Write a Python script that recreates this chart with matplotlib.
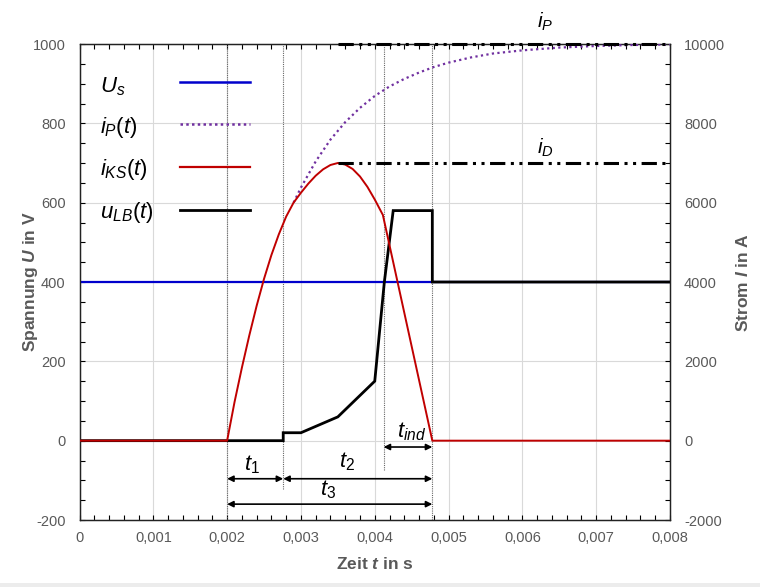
import matplotlib
matplotlib.use('Agg')
import matplotlib.pyplot as plt
from matplotlib.ticker import MultipleLocator, FuncFormatter
from matplotlib.lines import Line2D
from matplotlib.patches import Rectangle

plt.rcParams['font.family'] = ['Liberation Sans', 'DejaVu Sans']
plt.rcParams['mathtext.fontset'] = 'custom'
plt.rcParams['mathtext.rm'] = 'Liberation Sans'
plt.rcParams['mathtext.it'] = 'Liberation Sans:italic'
plt.rcParams['mathtext.bf'] = 'Liberation Sans:italic:bold'

# ---------------- data ----------------
t_us = [0.0, 0.008]
u_s = [400, 400]

t_ulb = [0.0, 0.00276, 0.00276, 0.0030, 0.0035, 0.0040, 0.00413, 0.00425, 0.00478, 0.00478, 0.008]
u_lb = [0, 0, 20, 20, 60, 150, 400, 580, 580, 400, 400]

t_iks = [0.0, 0.0020, 0.0021, 0.0022, 0.0023, 0.0024, 0.0025, 0.0026, 0.0027, 0.0028, 0.0029,
         0.0030, 0.0031, 0.0032, 0.0033, 0.0034, 0.0035, 0.0036, 0.0037, 0.0038, 0.0039,
         0.0040, 0.00411, 0.00478, 0.008]
i_ks = [0, 0, 970, 1840, 2650, 3400, 4080, 4680, 5200, 5650, 6000,
        6250, 6480, 6680, 6840, 6950, 7000, 6960, 6850, 6660, 6400,
        6080, 5690, 0, 0]

t_ip = [0.0029, 0.0030, 0.0032, 0.0034, 0.0036, 0.0038, 0.0040, 0.0042, 0.0044, 0.0046,
        0.0048, 0.0050, 0.0053, 0.0056, 0.0060, 0.0065, 0.0070, 0.0075, 0.0080]
i_p = [6000, 6380, 7040, 7590, 8030, 8390, 8690, 8930, 9120, 9280,
       9420, 9530, 9660, 9760, 9840, 9910, 9950, 9975, 9990]

t_ref = [0.0035, 0.008]
i_p_max = [10000, 10000]
i_d = [7000, 7000]

t_marks = [0.002, 0.00276, 0.00412, 0.00478]
legend_labels = [r'$U_s$', r'$i_P(t)$', r'$i_{KS}(t)$', r'$u_{LB}(t)$']

# ---------------- figure ----------------
W, H = 760, 587
fig = plt.figure(figsize=(W / 100, H / 100), dpi=100)
L, R, T, B = 79.5, 670.0, 44.0, 520.0
ax = fig.add_axes([L / W, 1 - B / H, (R - L) / W, (B - T) / H])
ax2 = ax.twinx()

gray = '#595959'

ax.set_xlim(0, 0.008)
ax.set_ylim(-200, 1000)
ax2.set_ylim(-2000, 10000)

ax.xaxis.set_major_locator(MultipleLocator(0.001))
ax.xaxis.set_minor_locator(MultipleLocator(0.0002))
ax.yaxis.set_major_locator(MultipleLocator(200))
ax.yaxis.set_minor_locator(MultipleLocator(50))
ax2.yaxis.set_major_locator(MultipleLocator(2000))
ax2.yaxis.set_minor_locator(MultipleLocator(500))

ax.xaxis.set_major_formatter(FuncFormatter(lambda v, p: '0' if abs(v) < 1e-12 else f'{v:.3f}'.replace('.', ',')))
ax.yaxis.set_major_formatter(FuncFormatter(lambda v, p: f'{v:.0f}'))
ax2.yaxis.set_major_formatter(FuncFormatter(lambda v, p: f'{v:.0f}'))

ax.grid(True, which='major', color='#d9d9d9', lw=0.8)
ax.set_axisbelow(True)

ax.tick_params(axis='both', which='both', direction='in', length=3.5, width=0.8,
               top=True, right=False, labelsize=10.5, labelcolor=gray)
ax.tick_params(axis='x', which='major', pad=8)
ax.tick_params(axis='y', which='major', pad=10)
ax2.tick_params(axis='y', which='both', direction='in', length=3.5, width=0.8,
                labelsize=10.5, labelcolor=gray, pad=10)

for a in (ax, ax2):
    for s in a.spines.values():
        s.set_linewidth(0.9)
        s.set_color('#222222')

# ---------------- curves ----------------
ax.plot(t_us, u_s, color='#0000CC', lw=1.6, zorder=3)
ax.plot(t_ulb, u_lb, color='black', lw=2.0, zorder=4, solid_joinstyle='miter')

ax2.plot(t_ip, i_p, color='#7030A0', lw=1.6, ls=(0, (1, 1.5)), zorder=3)
ax2.plot(t_iks, i_ks, color='#C00000', lw=1.4, zorder=4)
ax2.plot(t_ref, i_p_max, color='black', lw=2.2, dashes=(5, 1.8, 1, 1.8, 1, 1.8), clip_on=False, zorder=5)
ax2.plot(t_ref, i_d, color='black', lw=2.2, dashes=(5, 1.8, 1, 1.8, 1, 1.8), zorder=5)

# vertical marker lines
mark_bottom = [-200, -123, -74, -200]
for tm, yb in zip(t_marks, mark_bottom):
    ax.plot([tm, tm], [yb, 1000], color='#666666', lw=0.8, ls=(0, (1, 1)), zorder=2)

# arrows
def darrow(x1, x2, y):
    ax.annotate('', xy=(x2, y), xytext=(x1, y),
                arrowprops=dict(arrowstyle='<|-|>', color='black', lw=1.2,
                                mutation_scale=9, shrinkA=0, shrinkB=0), zorder=6)

darrow(t_marks[0], t_marks[1], -96)
darrow(t_marks[1], t_marks[3], -96)
darrow(t_marks[0], t_marks[3], -160)
darrow(t_marks[2], t_marks[3], -16)

ax.text(0.00234, -61, r'$t_1$', fontsize=16, ha='center', va='center')
ax.text(0.00362, -54, r'$t_2$', fontsize=16, ha='center', va='center')
ax.text(0.00337, -124, r'$t_3$', fontsize=16, ha='center', va='center')
ax.text(0.00450, 22, r'$t_{ind}$', fontsize=16, ha='center', va='center')

ax2.text(0.00631, 10550, r'$i_P$', fontsize=15, ha='center', va='center', clip_on=False)
ax2.text(0.00631, 7370, r'$i_D$', fontsize=15, ha='center', va='center')

# legend (manual)
def fx(x):
    return x / W

def fy(y):
    return 1 - y / H

leg_line_y = [82, 124, 167, 210]
leg_text_y = [87, 128, 170, 213]
leg_styles = [dict(color='#0000CC', lw=1.8),
              dict(color='#7030A0', lw=1.8, ls=(0, (1, 1.3))),
              dict(color='#C00000', lw=1.6),
              dict(color='black', lw=2.0)]
for ly, ty, lab, st in zip(leg_line_y, leg_text_y, legend_labels, leg_styles):
    fig.add_artist(Line2D([fx(180), fx(250)], [fy(ly), fy(ly)], **st))
    fig.text(fx(100), fy(ty), lab, fontsize=16, ha='left', va='center')

# axis labels
ax.set_ylabel(r'Spannung $\mathbf{U}$ in V', fontsize=12.5, fontweight='bold', color=gray)
ax2.set_ylabel(r'Strom $\mathbf{I}$ in A', fontsize=12.5, fontweight='bold', color=gray)
ax.set_xlabel(r'Zeit $\mathbf{t}$ in s', fontsize=12.5, fontweight='bold', color=gray)
ax.yaxis.set_label_coords(-0.067, 0.5)
ax2.yaxis.set_label_coords(1.11, 0.5)
ax.xaxis.set_label_coords(0.5, -0.075)

fig.add_artist(Rectangle((0, 0), 1, 4 / H, transform=fig.transFigure, color='#ececec', lw=0))

fig.savefig('out.png', dpi=100)
